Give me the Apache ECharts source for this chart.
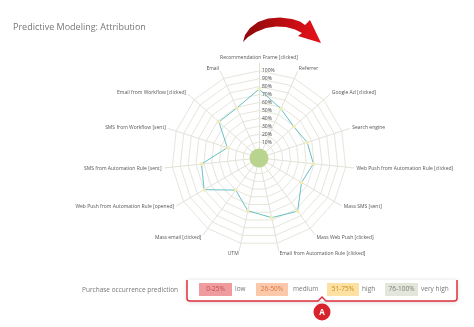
<!DOCTYPE html>
<html>
<head>
<meta charset="utf-8">
<script src="https://cdn.jsdelivr.net/npm/echarts@6/dist/echarts.min.js"></script>
<style>
  html, body { margin: 0; padding: 0; background: #fff; }
  #chart { width: 474px; height: 327px; }
</style>
</head>
<body>
<div id="chart"></div>
<script>
// attribution channels, clockwise from the top
var channels = [
  "Recommendation Frame [clicked]",
  "Referrer",
  "Google Ad [clicked]",
  "Search engine",
  "Web Push from Automation Rule [clicked]",
  "Mass SMS [sent]",
  "Mass Web Push [clicked]",
  "Email from Automation Rule [clicked]",
  "UTM",
  "Mass email [clicked]",
  "Web Push from Automation Rule [opened]",
  "SMS from Automation Rule [sent]",
  "SMS from Workflow [sent]",
  "Email from Workflow [clicked]",
  "Email"
];
// purchase occurrence prediction, %
var prediction = [77, 58, 49, 54, 59, 52, 73, 67, 58, 40, 70, 63, 32, 58, 59];

var ringTicks = [10, 20, 30, 40, 50, 60, 70, 80, 90, 100];

// legend: ranges and levels
var ranges = ["0-25%", "26-50%", "51-75%", "76-100%"];
var levels = ["low", "medium", "high", "very high"];
var rangeFill = ["#ef9c9e", "#fbc9aa", "#fde1a3", "#e3e6db"];
var rangeText = ["#c8484f", "#d8753f", "#c88a1e", "#7a7f72"];

var myChart = echarts.init(document.getElementById("chart"));

// echarts radar runs counter-clockwise, so flip the order after the first axis
var order = [0];
for (var i = channels.length - 1; i > 0; i--) order.push(i);

var indicators = order.map(function (k, idx) {
  var ind = { name: channels[k], min: 0, max: 110 };
  if (idx === 0) ind.axisLabel = { show: true };
  return ind;
});
var values = order.map(function (k) { return prediction[k]; });

var ringColors = [];
for (var r = 0; r <= 11; r++) ringColors.push(r === 11 ? "rgba(0,0,0,0)" : "#e6e6dc");

// legend graphics
var legendEls = [];
legendEls.push({
  type: "text", x: 82, y: 290,
  style: { text: "Purchase occurrence prediction", fill: "#777", font: "6.5px 'Open Sans'", verticalAlign: "middle" }
});
legendEls.push({
  type: "rect", shape: { x: 187, y: 280, width: 270, height: 21, r: [0, 0, 3, 3] },
  style: { fill: "#fff", shadowBlur: 5, shadowColor: "rgba(0,0,0,0.18)", shadowOffsetY: 1 }
});
legendEls.push({
  type: "polyline",
  shape: { points: [[187, 280], [187, 299], [188, 300.5], [190, 301], [318, 301], [322, 297], [326, 301], [454, 301], [456, 300.5], [457, 299], [457, 280]] },
  style: { fill: null, stroke: "#e0313b", lineWidth: 1.5 }
});
var swX = [199, 256, 327, 385];
var swW = [33, 32, 32, 33];
var lvX = [235, 293, 362, 421];
ranges.forEach(function (t, i) {
  legendEls.push({
    type: "rect", shape: { x: swX[i], y: 283, width: swW[i], height: 13 },
    style: { fill: rangeFill[i] }
  });
  legendEls.push({
    type: "text", x: swX[i] + swW[i] / 2, y: 289.5,
    style: { text: t, fill: rangeText[i], font: "6.5px 'Open Sans'", align: "center", verticalAlign: "middle" }
  });
  legendEls.push({
    type: "text", x: lvX[i], y: 289.5,
    style: { text: levels[i], fill: "#777", font: "6.5px 'Open Sans'", verticalAlign: "middle" }
  });
});
legendEls.push({
  type: "circle", shape: { cx: 322, cy: 312, r: 8.5 },
  style: { fill: "#d8232d" }
});
legendEls.push({
  type: "text", x: 322, y: 312.5,
  style: { text: "A", fill: "#fff", font: "bold 8px 'Open Sans'", align: "center", verticalAlign: "middle" }
});

var option = {
  backgroundColor: "#fff",
  animation: false,
  title: {
    text: "Predictive Modeling: Attribution",
    left: 8,
    top: 18,
    textStyle: { fontSize: 9, fontWeight: "normal", color: "#777", fontFamily: "Open Sans" }
  },
  radar: {
    center: [259, 158],
    radius: [8, 95],
    startAngle: 90,
    splitNumber: 11,
    shape: "polygon",
    nameGap: 3,
    indicator: indicators,
    axisName: { color: "#555", fontSize: 5, fontFamily: "Open Sans" },
    axisLine: { lineStyle: { color: "#e2e2d8", width: 1 } },
    axisTick: { show: false },
    axisLabel: {
      show: false,
      fontSize: 5,
      color: "#444",
      fontFamily: "Open Sans",
      margin: -3,
      align: "left",
      formatter: function (v) { return ringTicks.indexOf(v) >= 0 ? v + "%" : ""; }
    },
    splitLine: { lineStyle: { color: ringColors, width: 1 } },
    splitArea: { show: false }
  },
  series: [
    {
      type: "radar",
      symbol: "circle",
      symbolSize: 3.5,
      lineStyle: { color: "#68c0c6", width: 1 },
      itemStyle: { color: "#f3ebb0" },
      data: [{ value: values, name: "Prediction" }]
    }
  ],
  graphic: [
    // red arrow annotation
    {
      type: "polygon", z: 10,
      shape: {
        points: [[243, 42], [245, 35], [250, 28], [258, 22], [268, 18.5], [280, 17.5], [292, 19], [300, 21.5], [305, 25],
          [310, 20], [321, 43], [298, 36], [302, 33],
          [295, 29.5], [286, 27], [276, 26.5], [266, 28], [256, 32], [248, 37]]
      },
      style: {
        fill: new echarts.graphic.LinearGradient(0, 0, 1, 0, [
          { offset: 0, color: "#8c0a0a" },
          { offset: 1, color: "#e8101a" }
        ])
      }
    },
    // center hub
    {
      type: "circle", z: 10,
      shape: { cx: 259, cy: 158, r: 9.5 },
      style: { fill: "#b8d48e" }
    }
  ].concat(legendEls)
};

myChart.setOption(option);
</script>
</body>
</html>
